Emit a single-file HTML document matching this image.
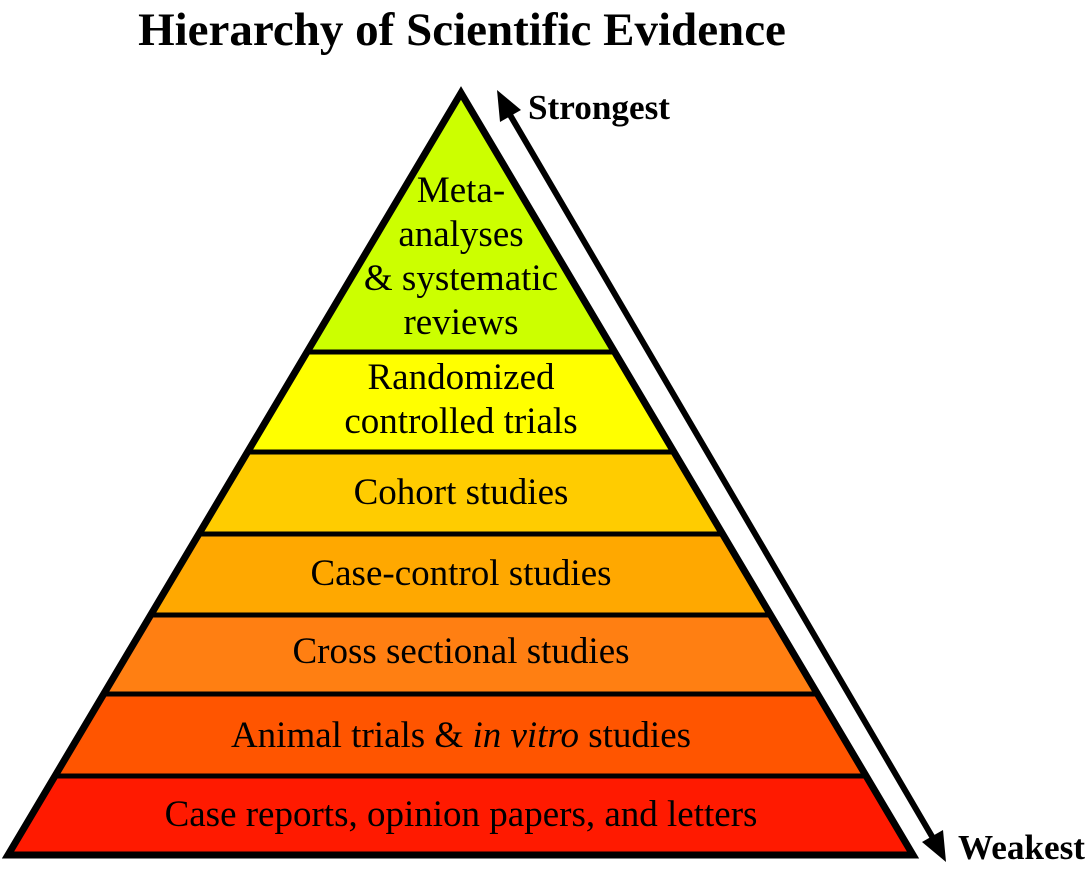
<!DOCTYPE html>
<html><head><style>body{margin:0;background:#fff}svg{display:block}</style></head><body>
<svg width="1092" height="877" xmlns="http://www.w3.org/2000/svg" font-family="Liberation Serif, serif">
<defs><clipPath id="t"><polygon points="461,93 8,855 913,855"/></clipPath></defs>
<text x="462" y="45" font-size="47" font-weight="bold" text-anchor="middle">Hierarchy of Scientific Evidence</text>
<g clip-path="url(#t)">
<rect x="0" y="80" width="1000" height="272" fill="#ccff00"/>
<rect x="0" y="352" width="1000" height="100" fill="#ffff00"/>
<rect x="0" y="452" width="1000" height="82" fill="#ffcc00"/>
<rect x="0" y="534" width="1000" height="81" fill="#ffa800"/>
<rect x="0" y="615" width="1000" height="79" fill="#ff7f12"/>
<rect x="0" y="694" width="1000" height="82" fill="#ff5500"/>
<rect x="0" y="776" width="1000" height="90" fill="#ff1a00"/>
<g stroke="#000" stroke-width="5">
<line x1="0" y1="352" x2="1000" y2="352"/><line x1="0" y1="452" x2="1000" y2="452"/>
<line x1="0" y1="534" x2="1000" y2="534"/><line x1="0" y1="615" x2="1000" y2="615"/>
<line x1="0" y1="694" x2="1000" y2="694"/><line x1="0" y1="776" x2="1000" y2="776"/>
</g></g>
<polygon points="461,93 8,855 913,855" fill="none" stroke="#000" stroke-width="7" stroke-linejoin="miter"/>
<line x1="506" y1="108" x2="937" y2="845" stroke="#000" stroke-width="6"/>
<polygon points="497,90 500,122 521,110" fill="#000"/>
<polygon points="946,862 943,830 922,842" fill="#000"/>
<text x="528" y="119" font-size="35" font-weight="bold" textLength="142" lengthAdjust="spacingAndGlyphs">Strongest</text>
<text x="958" y="859" font-size="35" font-weight="bold" textLength="127" lengthAdjust="spacingAndGlyphs">Weakest</text>
<g font-size="37" text-anchor="middle">
<text x="461" y="202">Meta-</text><text x="461" y="246">analyses</text>
<text x="461" y="290">&amp; systematic</text><text x="461" y="334">reviews</text>
<text x="461" y="389">Randomized</text><text x="461" y="433">controlled trials</text>
<text x="461" y="504">Cohort studies</text>
<text x="461" y="585">Case-control studies</text>
<text x="461" y="663">Cross sectional studies</text>
<text x="461" y="747">Animal trials &amp; <tspan font-style="italic">in vitro</tspan> studies</text>
<text x="461" y="826">Case reports, opinion papers, and letters</text>
</g>
</svg>
</body></html>
